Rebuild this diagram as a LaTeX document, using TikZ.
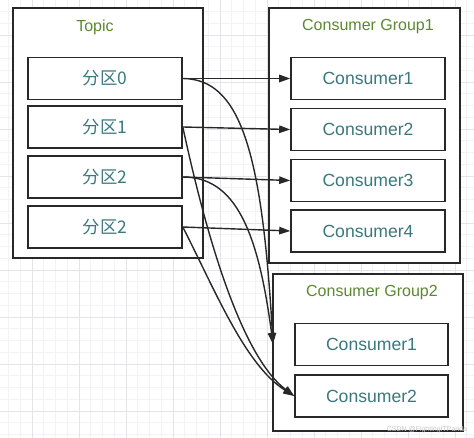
\documentclass[tikz,border=0pt]{standalone}
\usepackage{fontspec}
\setmainfont{Liberation Sans}
\newfontfamily\cjk{Noto Sans CJK SC}
\usetikzlibrary{arrows.meta}
\definecolor{lblgreen}{RGB}{92,136,48}
\definecolor{txtteal}{RGB}{58,120,126}
\definecolor{linedark}{RGB}{40,40,40}
\definecolor{gridmajor}{RGB}{228,228,232}
\definecolor{gridminor}{RGB}{243,243,246}
\begin{document}
\begin{tikzpicture}[x=1pt,y=-1pt,
  outerbox/.style={draw=linedark,line width=1.6pt},
  itembox/.style={draw=linedark,line width=1.6pt,minimum width=154pt,minimum height=42pt,inner sep=0pt,text=txtteal,font=\fontsize{17.6}{20}\selectfont},
  cjkbox/.style={itembox,font=\cjk\fontsize{17.4}{20}\selectfont},
  grouplbl/.style={text=lblgreen,font=\fontsize{16}{18}\selectfont,inner sep=0pt},
  conn/.style={draw=linedark,line width=1.4pt,-{Triangle[length=11pt,width=7.5pt]}}]
\useasboundingbox (0,0) rectangle (474,438);
% background grid
\fill[white] (0,0) rectangle (474,438);
\begin{scope}
\clip (0,0) rectangle (474,438);
\foreach \i in {-3,...,38} {
  \draw[gridminor,line width=0.6pt] ({32+11.75*\i},0) -- ({32+11.75*\i},438);
  \draw[gridminor,line width=0.6pt] (0,{35+11.75*\i}) -- (474,{35+11.75*\i});
}
\foreach \i in {-1,...,10} {
  \draw[gridmajor,line width=0.8pt] ({32+47*\i},0) -- ({32+47*\i},438);
  \draw[gridmajor,line width=0.8pt] (0,{35+47*\i}) -- (474,{35+47*\i});
}
\end{scope}
% Topic
\node[outerbox,fill=white,minimum width=190pt,minimum height=250pt,inner sep=0pt] (topic) at (108,133) {};
\node[grouplbl] (topiclbl) at (95,27) {Topic};
\node[cjkbox,fill=white] (p0) at (105,78.5) {分区0};
\node[cjkbox,fill=white] (p1) at (105,127) {分区1};
\node[cjkbox,fill=white] (p2a) at (105,177) {分区2};
\node[cjkbox,fill=white] (p2b) at (105,227) {分区2};
% Consumer Group1
\node[outerbox,fill=white,minimum width=191pt,minimum height=255pt,inner sep=0pt] (g1) at (364.5,135.5) {};
\node[grouplbl] (g1lbl) at (368,27) {Consumer Group1};
\node[itembox,fill=white] (c1) at (368,78.5) {Consumer1};
\node[itembox,fill=white] (c2) at (368,129.5) {Consumer2};
\node[itembox,fill=white] (c3) at (368,180.5) {Consumer3};
\node[itembox,fill=white] (c4) at (368,231) {Consumer4};
% Consumer Group2
\node[outerbox,fill=white,minimum width=190pt,minimum height=157pt,inner sep=0pt] (g2) at (368,352.5) {};
\node[grouplbl] (g2lbl) at (372,293) {Consumer Group2};
\node[itembox,fill=white,minimum width=153pt] (d1) at (371.5,344.5) {Consumer1};
\node[itembox,fill=white,minimum width=153pt] (d2) at (371.5,396) {Consumer2};
\coordinate (g2in) at (273,344);
% connectors
\draw[conn] (p0.east) -- (c1.west);
\draw[conn] (p1.east) -- (c2.west);
\draw[conn] (p2a.east) -- (c3.west);
\draw[conn] (p2b.east) -- (c4.west);
\draw[conn] (p0.east) .. controls (240,79) and (262,150) .. (g2in);
\draw[conn] (p2a.east) .. controls (235,177) and (258,230) .. (g2in);
\draw[conn] (p1.east) .. controls (205,230) and (240,355) .. (d2.west);
\draw[conn] (p2b.east) .. controls (215,290) and (245,365) .. (d2.west);
% watermark
\node[text=black!22,font=\fontsize{7}{8}\selectfont,inner sep=0pt] (wm) at (427,430) {CSDN @FightingITPanda};
\end{tikzpicture}
\end{document}
